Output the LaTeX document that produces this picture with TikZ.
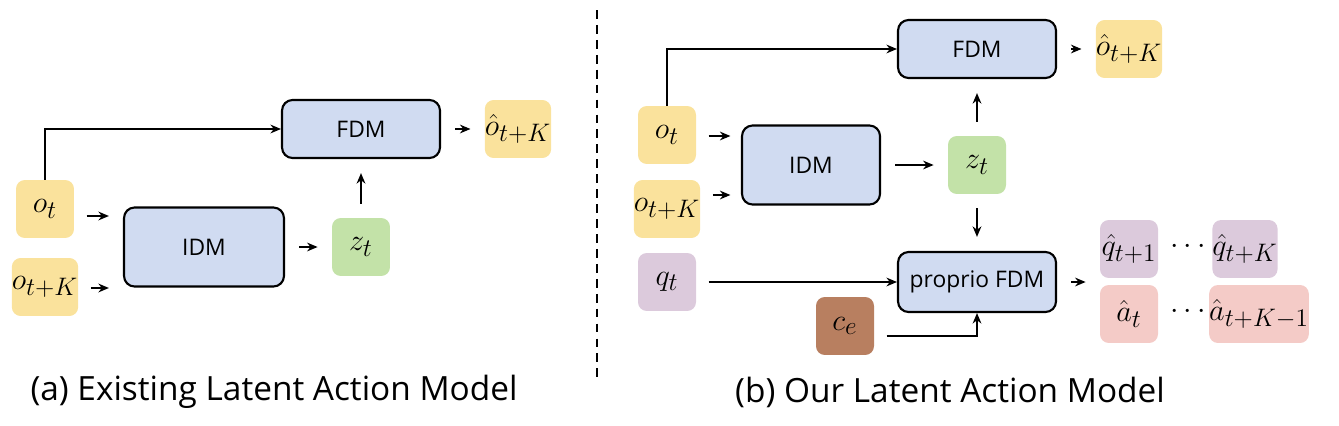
\documentclass[tikz,border=0pt]{standalone}
\usepackage{fontspec}
\setmainfont{Open Sans}
\usetikzlibrary{arrows.meta}
\definecolor{cyel}{HTML}{FAE29C}
\definecolor{cblue}{HTML}{D0DBF1}
\definecolor{cgreen}{HTML}{C3E2A8}
\definecolor{cpurp}{HTML}{DCCADC}
\definecolor{cpink}{HTML}{F4CBC7}
\definecolor{cbrown}{HTML}{B87F60}
\begin{document}
\begin{tikzpicture}[x=0.02cm,y=-0.02cm,
  tile/.style={rounded corners=5pt,minimum width=1.16cm,minimum height=1.16cm,inner sep=0pt,font=\fontsize{19}{22}\selectfont},
  blk/.style={draw,line width=1.2pt,rounded corners=6pt,fill=cblue,inner sep=0pt,font=\fontsize{13}{16}\selectfont},
  arr/.style={-{Stealth[length=6pt,width=5pt]},line width=0.8pt},
  captxt/.style={font=\fontsize{19}{22}\selectfont}]
\useasboundingbox (0,0) rectangle (1339,426);
% (a)
\node (fa) [blk,minimum width=3.16cm,minimum height=1.16cm] at (361,129) {FDM};
\node (ha) [tile,fill=cyel] at (518,129) {$\hat{o}_{t+K}$};
\node (oa) [tile,fill=cyel] at (45,209) {$o_t$};
\node (ka) [tile,fill=cyel] at (45,287) {$o_{t+K}$};
\node (ia) [blk,minimum width=3.2cm,minimum height=1.58cm] at (204,247) {IDM};
\node (za) [tile,fill=cgreen] at (361,247) {$z_t$};
\draw[arr] (oa.north) |- (fa.west);
\draw[arr] ([xshift=7pt]oa.east |- 0,216) -- ([xshift=-8pt]ia.west |- 0,216);
\draw[arr] ([xshift=7pt]ka.east |- 0,288) -- ([xshift=-8pt]ia.west |- 0,288);
\draw[arr] ([xshift=8pt]ia.east) -- ([xshift=-8pt]za.west);
\draw[arr] ([yshift=8pt]za.north) -- ([yshift=-8pt]fa.south);
\draw[arr] ([xshift=8pt]fa.east) -- ([xshift=-8pt]ha.west);
\node (ca) [captxt] at (274,392) {(a) Existing Latent Action Model};
\draw[dash pattern=on 5pt off 3.5pt,line width=0.9pt] (597,10) -- (597,382);
% (b)
\node (fb) [blk,minimum width=3.16cm,minimum height=1.16cm] at (977,49) {FDM};
\node (hb) [tile,fill=cyel] at (1129,49) {$\hat{o}_{t+K}$};
\node (ob) [tile,fill=cyel] at (667,135) {$o_t$};
\node (kb) [tile,fill=cyel] at (667,209) {$o_{t+K}$};
\node (ib) [blk,minimum width=2.76cm,minimum height=1.58cm] at (811,165) {IDM};
\node (zb) [tile,fill=cgreen] at (977,165) {$z_t$};
\node (qb) [tile,fill=cpurp] at (667,282) {$q_t$};
\node (pb) [blk,minimum width=3.16cm,minimum height=1.2cm] at (977,282) {proprio FDM};
\node (cb) [tile,fill=cbrown] at (845,326) {$c_e$};
\node (q1) [tile,fill=cpurp] at (1129,249) {$\hat{q}_{t+1}$};
\node (q2) [tile,fill=cpurp] at (1245,249) {$\hat{q}_{t+K}$};
\node (a1) [tile,fill=cpink] at (1129,314) {$\hat{a}_{t}$};
\node (a2) [tile,fill=cpink,minimum width=1.74cm] at (1259,314) {$\hat{a}_{t+K-1}$};
\node (d1) [font=\fontsize{17}{20}\selectfont] at (1188,247) {$\cdots$};
\node (d2) [font=\fontsize{17}{20}\selectfont] at (1188,312) {$\cdots$};
\draw[arr] (ob.north) |- (fb.west);
\draw[arr] ([xshift=7pt]ob.east |- 0,136) -- ([xshift=-6pt]ib.west |- 0,136);
\draw[arr] ([xshift=7pt]kb.east |- 0,195) -- ([xshift=-6pt]ib.west |- 0,195);
\draw[arr] ([xshift=8pt]ib.east) -- ([xshift=-8pt]zb.west);
\draw[arr] ([yshift=8pt]zb.north) -- ([yshift=-8pt]fb.south);
\draw[arr] ([yshift=-8pt]zb.south) -- ([yshift=8pt]pb.north);
\draw[arr] ([xshift=8pt]fb.east) -- ([xshift=-8pt]hb.west);
\draw[arr] ([xshift=7pt]qb.east) -- (pb.west);
\draw[arr] ([xshift=7pt]cb.east |- 0,336) -| (pb.south);
\draw[arr] ([xshift=8pt]pb.east) -- ([xshift=-8pt]pb.east -| q1.west);
\node (cbb) [captxt] at (950,392) {(b) Our Latent Action Model};
\end{tikzpicture}
\end{document}
